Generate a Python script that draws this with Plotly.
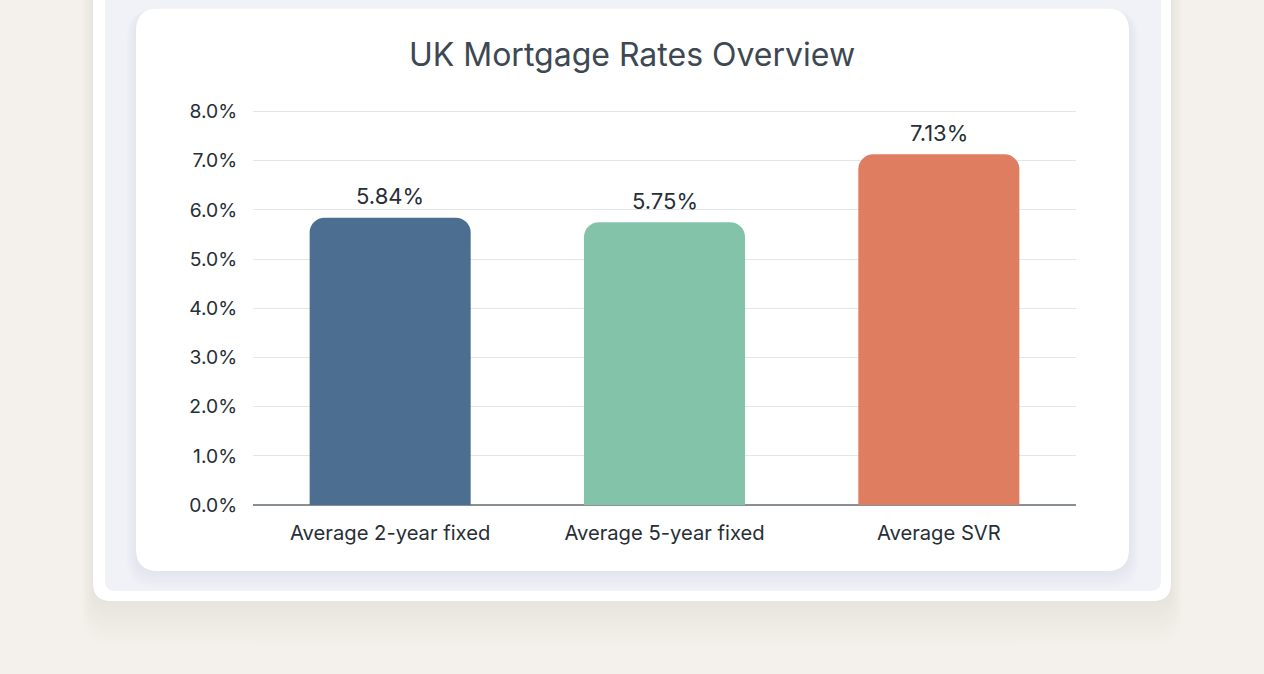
import plotly.graph_objects as go

W, H = 1264, 674
L, R, T, B = 253, 1076, 109.5, 505

categories = ["Average 2-year fixed", "Average 5-year fixed", "Average SVR"]
rates = [5.84, 5.75, 7.13]
rate_labels = ["5.84%", "5.75%", "7.13%"]
bar_colors = ["#4B6E91", "#82C3A9", "#DF7D61"]
y_ticks = [0, 1, 2, 3, 4, 5, 6, 7, 8]
y_tick_labels = ["0.0%", "1.0%", "2.0%", "3.0%", "4.0%", "5.0%", "6.0%", "7.0%", "8.0%"]

PAGE_BG = (244, 241, 236)
PAGE_SHADOW = (231, 228, 221)
PANEL_BG = (241, 242, 248)
PANEL_SHADOW = (226, 228, 236)


def px(x):
    return (x - L) / (R - L)


def py(y):
    return (B - y) / (B - T)


def mix(a, b, t):
    return "rgb(%d,%d,%d)" % tuple(round(a[i] + (b[i] - a[i]) * t) for i in range(3))


# rounded box given in page pixels, turned into paper coords for the shape path
def card(x0, y0, x1, y1, r, color):
    p = f"M {px(x0 + r)} {py(y0)} L {px(x1 - r)} {py(y0)} "
    p += f"Q {px(x1)} {py(y0)} {px(x1)} {py(y0 + r)} L {px(x1)} {py(y1 - r)} "
    p += f"Q {px(x1)} {py(y1)} {px(x1 - r)} {py(y1)} L {px(x0 + r)} {py(y1)} "
    p += f"Q {px(x0)} {py(y1)} {px(x0)} {py(y1 - r)} L {px(x0)} {py(y0 + r)} "
    p += f"Q {px(x0)} {py(y0)} {px(x0 + r)} {py(y0)} Z"
    return dict(type="path", path=p, xref="paper", yref="paper", layer="below",
                fillcolor=color, line=dict(width=0))


shapes = []

# soft shadow under the outer card
for i in range(16, 0, -1):
    t = i / 16
    shapes.append(card(93 - 12 * t, -40, 1171 + 12 * t, 601 + 48 * t, 18 + 16 * t,
                       mix(PAGE_SHADOW, PAGE_BG, t)))
shapes.append(card(93, -40, 1171, 601, 18, "#FFFFFF"))
shapes.append(card(105, -40, 1161, 591, 10, mix(PANEL_BG, PANEL_BG, 0)))

# shadow under the inner white card
for i in range(10, 0, -1):
    t = i / 10
    shapes.append(card(136 - 11 * t, 8 + 4 * (1 - t), 1129 + 11 * t, 571 + 20 * t, 22 + 8 * t,
                       mix(PANEL_SHADOW, PANEL_BG, t)))
shapes.append(card(136, 8, 1129, 571, 22, "#FFFFFF"))

fig = go.Figure()
fig.add_trace(go.Bar(
    x=categories,
    y=rates,
    marker=dict(color=bar_colors, line=dict(width=0), cornerradius=15),
    hoverinfo="x+y",
))

# value labels sit a fixed distance above each bar
for c, v, label in zip(categories, rates, rate_labels):
    fig.add_annotation(x=c, y=v, text=label, showarrow=False, yanchor="middle", yshift=21.5,
                       font=dict(family="Inter", size=22, color="#272E36"))

fig.update_layout(
    width=W,
    height=H,
    margin=dict(l=L, r=W - R, t=T, b=H - B, autoexpand=False),
    paper_bgcolor="#F4F1EC",
    plot_bgcolor="rgba(0,0,0,0)",
    font=dict(family="Inter", color="#272E36"),
    bargap=0.413,
    showlegend=False,
    shapes=shapes,
    title=dict(
        text="UK Mortgage Rates Overview",
        font=dict(family="Inter", size=32, color="#3D4852"),
        x=632 / W,
        xanchor="center",
        y=1 - 55 / H,
        yanchor="middle",
    ),
)
fig.update_xaxes(
    showgrid=False,
    showline=False,
    ticks="outside",
    ticklen=10,
    tickcolor="rgba(0,0,0,0)",
    tickfont=dict(family="Inter", size=20.2, color="#272E36"),
)
# range runs just past 8 so plotly keeps the top gridline
fig.update_yaxes(
    range=[0, 8.03],
    tickvals=y_ticks,
    ticktext=y_tick_labels,
    showgrid=True,
    gridcolor="#E4E6EA",
    gridwidth=1,
    zeroline=True,
    zerolinecolor="#8A8F94",
    zerolinewidth=1.5,
    ticks="outside",
    ticklen=11,
    tickcolor="rgba(0,0,0,0)",
    tickfont=dict(family="Inter", size=19.3, color="#272E36"),
)

fig.write_html("out.html", config=dict(displayModeBar=False),
               post_script="document.body.style.margin='0';document.body.style.background='#F4F1EC';")
